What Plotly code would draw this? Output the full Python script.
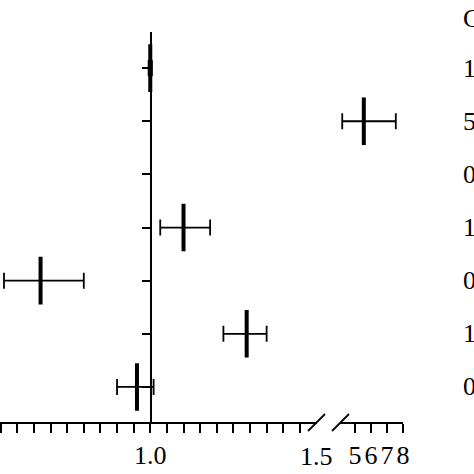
import plotly.graph_objects as go

# rows from top (1) to bottom (7)
rows = [1, 2, 3, 4, 5, 6, 7]
odds = [1.00, 5.55, 0.42, 1.10, 0.67, 1.29, 0.96]
ci_low = [0.995, 4.20, 0.35, 1.03, 0.56, 1.22, 0.90]
ci_high = [1.005, 7.55, 0.50, 1.18, 0.80, 1.35, 1.01]
right_text = ["1.00 (0.99-1.01)", "5.55 (4.20-7.55)", "0.42 (0.35-0.50)",
              "1.10 (1.03-1.18)", "0.67 (0.56-0.80)", "1.29 (1.22-1.35)",
              "0.96 (0.90-1.01)"]
header = "CI"

# broken x axis: left part up to 1.5, right part 5-8
left_ticks = [round(0.55 + 0.05 * i, 2) for i in range(19)]
right_ticks = [5, 6, 7, 8]

W, H = 474, 474
FONT = dict(family="Liberation Serif", size=26, color="black")

fig = go.Figure()

for seg, axis in [("left", "x"), ("right", "x2")]:
    idx = [i for i, v in enumerate(odds) if (v > 3) == (seg == "right")]
    fig.add_trace(go.Scatter(
        x=[odds[i] for i in idx],
        y=[rows[i] for i in idx],
        xaxis=axis, yaxis="y",
        mode="markers",
        marker=dict(symbol="line-ns", size=34, line=dict(width=4, color="black")),
        error_x=dict(type="data", symmetric=False,
                     array=[ci_high[i] - odds[i] for i in idx],
                     arrayminus=[odds[i] - ci_low[i] for i in idx],
                     color="black", thickness=1.8, width=8),
        showlegend=False,
    ))

top, bottom = 32, 52
plot_h = H - top - bottom

fig.update_layout(
    width=W, height=H,
    margin=dict(l=0, r=0, t=top, b=bottom, autoexpand=False),
    plot_bgcolor="white", paper_bgcolor="white",
    font=FONT,
    xaxis=dict(domain=[0, 316.5 / W], range=[0.548, 1.5], anchor="y",
               showgrid=False, zeroline=False, showline=True,
               linecolor="black", linewidth=1.6,
               tickmode="array", tickvals=left_ticks,
               ticktext=["1.0" if abs(t - 1.0) < 1e-9 else "" for t in left_ticks],
               ticks="outside", ticklen=9, tickwidth=1.6, tickcolor="black",
               automargin=False),
    xaxis2=dict(domain=[340 / W, 403 / W], range=[4.06, 8], anchor="y",
                showgrid=False, zeroline=False, showline=True,
                linecolor="black", linewidth=1.6,
                tickmode="array", tickvals=right_ticks,
                ticktext=[str(t) for t in right_ticks],
                ticks="outside", ticklen=9, tickwidth=1.6, tickcolor="black",
                automargin=False),
    yaxis=dict(domain=[0, 1], range=[7.66, 0.32], anchor="free",
               position=150.5 / W,
               showgrid=False, zeroline=False, showline=True,
               linecolor="black", linewidth=1.6,
               tickmode="array", tickvals=rows, showticklabels=False,
               ticks="outside", ticklen=8, tickwidth=1.6, tickcolor="black",
               automargin=False),
)

# "1.5" label at the end of the left segment
fig.add_annotation(x=1.5, xref="x", y=-0.045, yref="paper", text="1.5",
                   showarrow=False, yanchor="top", font=FONT)

# axis break marks
for x0 in [308, 332]:
    fig.add_shape(type="line", xref="paper", yref="paper",
                  x0=x0 / W, x1=(x0 + 17) / W,
                  y0=-9 / plot_h, y1=8 / plot_h,
                  line=dict(color="black", width=1.8))

# right-hand column of estimates (cut off at the edge, as in the source figure)
fig.add_annotation(x=461 / W, xref="paper", y=1 + 13 / plot_h, yref="paper",
                   text=header, showarrow=False, xanchor="left",
                   yanchor="middle", font=FONT)
for r, t in zip(rows, right_text):
    fig.add_annotation(x=461 / W, xref="paper", y=r, yref="y", text=t,
                       showarrow=False, xanchor="left", yanchor="middle",
                       font=FONT)

fig.write_html("out.html", config={"displayModeBar": False},
               post_script="document.body.style.margin='0';")
